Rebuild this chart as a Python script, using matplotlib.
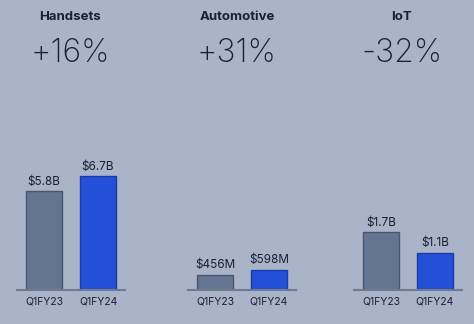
import matplotlib.pyplot as plt

segments = ["Handsets", "Automotive", "IoT"]
growth = ["+16%", "+31%", "-32%"]
quarters = ["Q1FY23", "Q1FY24"]
# revenue in $B
handsets = [5.8, 6.7]
automotive = [0.456, 0.598]
iot = [1.7, 1.1]
value_labels = [["$5.8B", "$6.7B"], ["$456M", "$598M"], ["$1.7B", "$1.1B"]]

bg = "#aab4c9"
ink = "#1a2030"
bar_colors = ["#647591", "#2450d8"]
edge_colors = ["#4a566e", "#1a3aa8"]

fig = plt.figure(figsize=(4.74, 3.24), dpi=100)
fig.patch.set_facecolor(bg)

W, H = 474.0, 324.0
lefts = [17, 188, 354]
ytops = [8.24, 4.12, 4.12]
series = [handsets, automotive, iot]
centers = [70, 237, 402]

for i, vals in enumerate(series):
    ax = fig.add_axes([lefts[i] / W, (H - 290) / H, 108 / W, 140 / H])
    ax.set_facecolor(bg)
    ax.patch.set_alpha(0)
    bars = ax.bar([0, 1], vals, width=0.65, color=bar_colors,
                  edgecolor=edge_colors, linewidth=1.0, zorder=2)
    ax.set_xlim(-0.5, 1.5)
    ax.set_ylim(0, ytops[i])
    for b, lab in zip(bars, value_labels[i]):
        ax.annotate(lab, (b.get_x() + b.get_width() / 2, b.get_height()),
                    xytext=(0, 2.5), textcoords="offset points",
                    ha="center", va="bottom", fontsize=8.5, color=ink,
                    family="Inter")
    for s in ["top", "right", "left"]:
        ax.spines[s].set_visible(False)
    ax.spines["bottom"].set_color("#6e7a90")
    ax.spines["bottom"].set_linewidth(1.5)
    ax.set_yticks([])
    ax.set_xticks([0, 1])
    ax.set_xticklabels(quarters, fontsize=7.5, color=ink, family="Inter")
    ax.tick_params(axis="x", length=0, pad=5)

    fig.text(centers[i] / W, 1 - 17 / H, segments[i], ha="center", va="center",
             fontsize=9.5, fontweight="bold", color=ink, family="Inter")
    fig.text(centers[i] / W, 1 - 54 / H, growth[i], ha="center", va="center",
             fontsize=23, fontweight="light", color=ink, family="Inter")

fig.savefig("out.png", dpi=100, facecolor=bg)
